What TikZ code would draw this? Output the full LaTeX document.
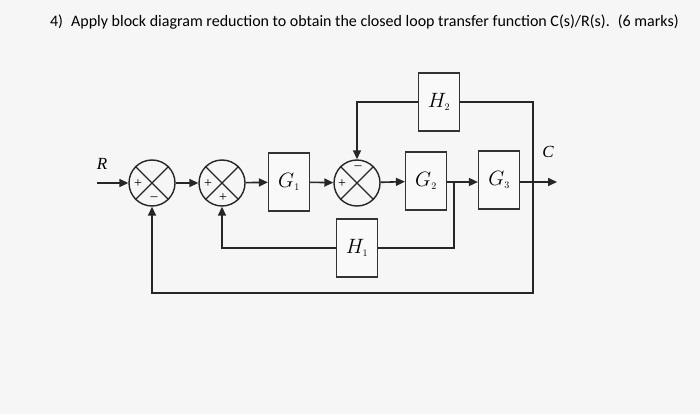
\documentclass[tikz,border=0pt]{standalone}
\usepackage{fontspec}
\setmainfont{Carlito}
\newfontfamily\serifx{Liberation Serif}
\usetikzlibrary{arrows.meta}
\begin{document}
\begin{tikzpicture}[x=1pt,y=-1pt,
  line width=1.6pt, draw=black!85,
  blk/.style={draw=black!80,line width=1.2pt,fill=white!95!gray,minimum width=41pt,minimum height=58pt,font=\serifx\itshape\fontsize{20}{20}\selectfont},
  sumj/.style={draw=black!85,line width=1.4pt,circle,minimum size=46pt,inner sep=0pt},
  sg/.style={font=\serifx\fontsize{14}{14}\selectfont,inner sep=0pt},
  ar/.style={-{Triangle[length=9pt,width=8pt]}}]
\fill[gray!7] (0,0) rectangle (700,414);
\useasboundingbox (0,0) rectangle (700,414);
\node[anchor=west,font=\fontsize{16}{16}\selectfont] (title) at (46,22) {4)\enspace Apply block diagram reduction to obtain the closed loop transfer function C(s)/R(s).\enspace (6 marks)};
\node[sumj] (s1) at (152,183) {};
\node[sumj] (s2) at (222,183) {};
\node[sumj] (s3) at (357,183) {};
\foreach \s in {s1,s2,s3}{
 \draw[line width=1.2pt] (\s.north west) -- (\s.south east) (\s.north east) -- (\s.south west);}
\node[sg] (p1) at (138,184) {+};
\node[sg] (m1) at (154,199) {–};
\node[sg] (p2) at (208,184) {+};
\node[sg] (p2b) at (223,198) {+};
\node[sg] (p3) at (342,184) {+};
\node[sg] (m3) at (358,168) {–};
\node[blk] (g1) at (289,182) {$G_{\scriptscriptstyle 1}$};
\node[blk] (g2) at (426,181) {$G_{\scriptscriptstyle 2}$};
\node[blk] (g3) at (499,180) {$G_{\scriptscriptstyle 3}$};
\node[blk] (h1) at (357,248) {$H_{\scriptscriptstyle 1}$};
\node[blk] (h2) at (439,102) {$H_{\scriptscriptstyle 2}$};
\coordinate (in) at (97,183);
\coordinate (j) at (454,182);
\coordinate (co) at (533,182);
\coordinate (out) at (557,182);
\node[font=\serifx\itshape\fontsize{17}{17}\selectfont] (rl) at (102,164) {R};
\node[font=\serifx\itshape\fontsize{17}{17}\selectfont] (cl) at (548,152) {C};
\draw[ar] (in) -- (s1);
\draw[ar] (s1) -- (s2);
\draw[ar] (s2) -- (g1);
\draw[ar] (g1) -- (s3);
\draw[ar] (s3) -- (g2);
\draw (g2.east|-j) -- (j);
\draw[ar] (j) -- (g3.west|-j);
\draw[ar] (g3.east|-co) -- (out);
\draw (co) |- (h2.east);
\draw[ar] (h2.west) -| (s3.north);
\draw (j) |- (h1.east);
\draw[ar] (h1.west) -| (s2.south);
\draw[ar] (co) |- (152,293) -- (s1.south);
\end{tikzpicture}
\end{document}
